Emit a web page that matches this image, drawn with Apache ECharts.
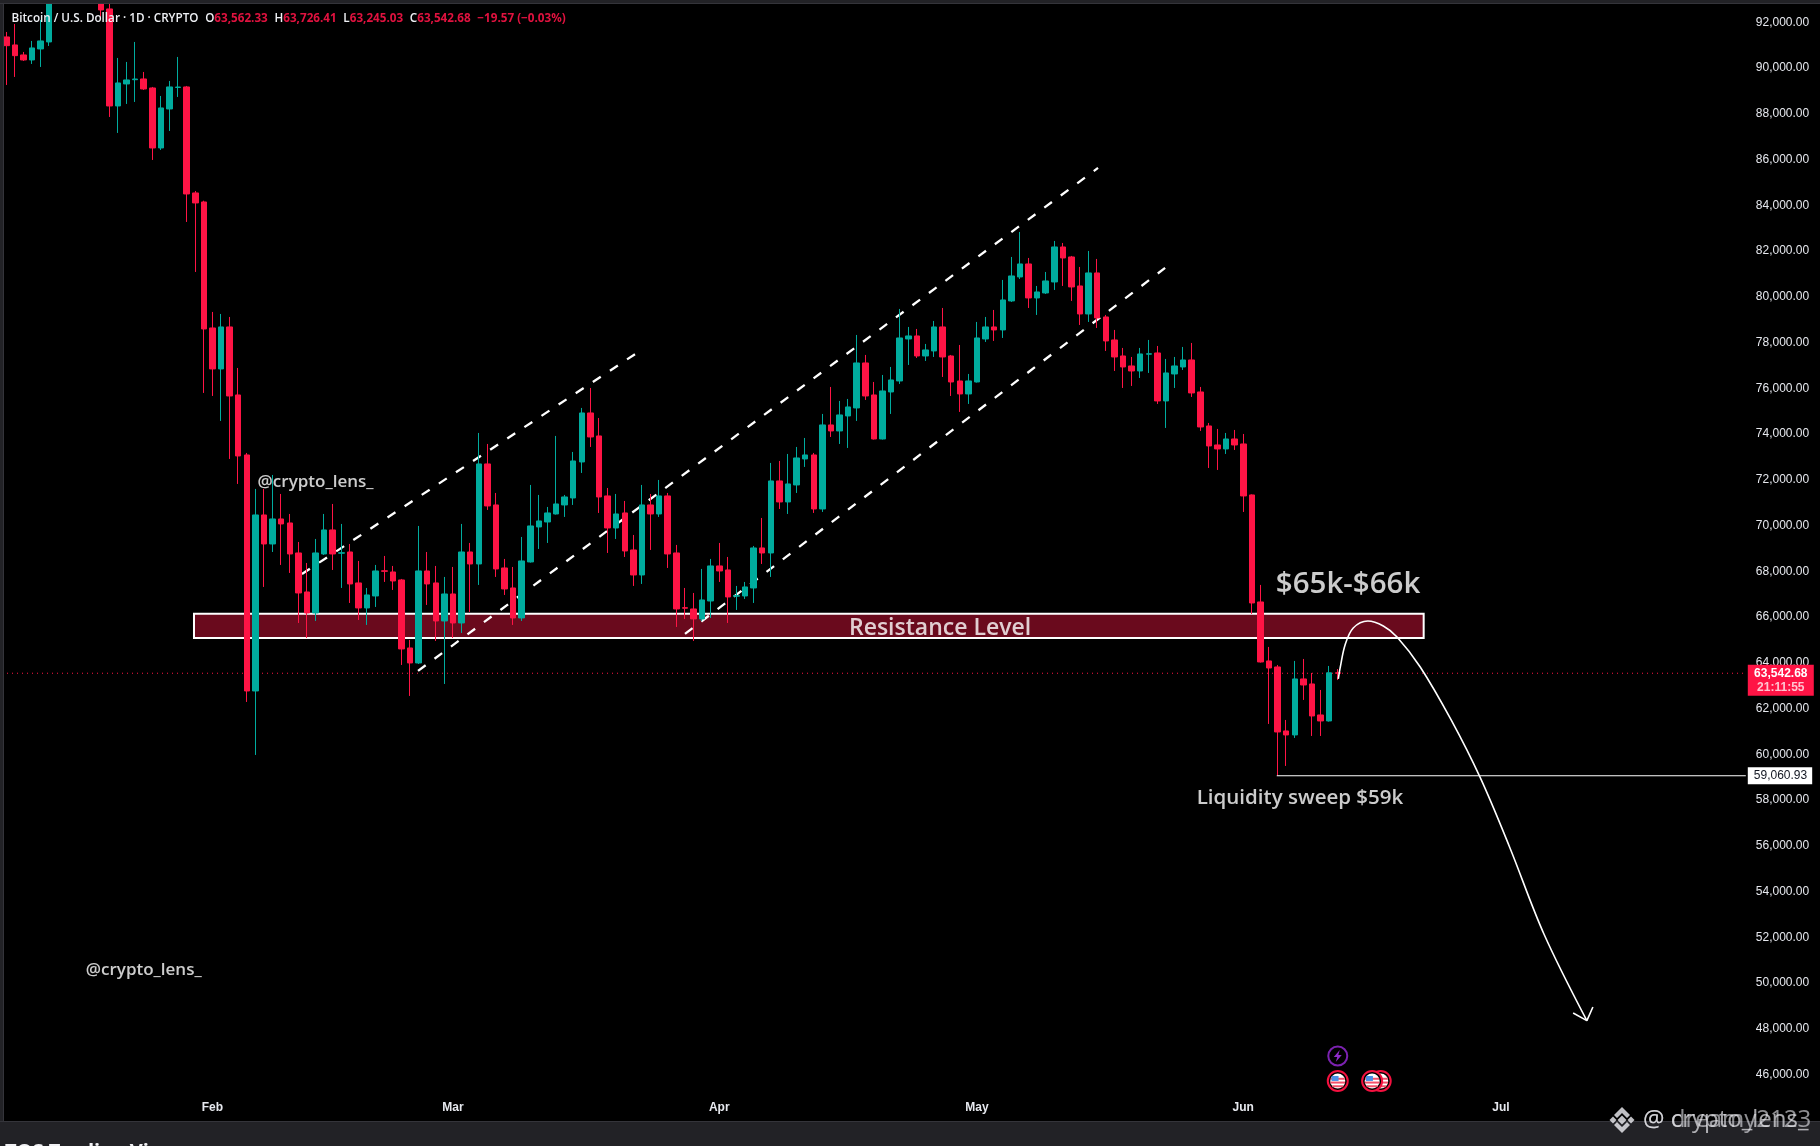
<!DOCTYPE html>
<html><head><meta charset="utf-8">
<style>html,body{margin:0;padding:0;background:#000;overflow:hidden}#c{width:1820px;height:1146px}</style>
<script src="https://cdn.jsdelivr.net/npm/echarts@6/dist/echarts.min.js"></script>
</head><body><div id="c"></div>
<script>
const opens=[91359,91009,90572,90353,90834,91140,94500,96900,95600,95500,95100,93600,92583,88342,89304,89490,89522,89129,86506,88211,89150,89173,84539,84145,78637,76845,78681,75708,73085,62768,70462,69194,70287,70112,68801,67096,66178,68757,69807,68790,68844,67490,66397,66921,68020,67970,67621,64648,63992,68014,67490,65828,67008,65741,68844,68320,72692,70900,68145,67271,65960,68408,69938,70156,70506,70900,71205,72779,74921,73916,71293,69894,70550,68932,67839,70900,70506,71293,68801,66410,66353,65916,66702,68233,68058,66910,66921,67271,69020,68801,71949,71031,71774,72910,73085,70724,74397,74135,74790,75140,77107,75708,73784,75839,76320,78156,78288,77413,77632,78681,77413,76320,75752,76276,78156,78681,78550,79818,80867,81435,79949,80167,80648,82178,81741,80473,79249,81042,79118,78112,77413,76976,76757,77490,77544,75446,76626,76932,77238,75839,74353,73522,73348,73784,73566,71337,66659,64080,63817,61020,60845,63293,63074,61719,61457,63562.33];
const closes=[90978,90541,90353,90878,91184,94500,96900,95600,95500,95100,93800,92539,88342,89348,89479,89520,89085,86506,88255,89173,89170,84495,84102,78593,76845,78681,75664,73041,62768,70462,69194,70287,70069,68757,67052,66178,68801,69807,68757,68810,67446,66397,66965,68014,68000,67577,64605,63992,68014,67446,65828,67008,65741,68844,68320,72692,70856,68102,67227,65960,68451,69981,70200,70550,70943,71249,72823,74921,73872,71249,69894,70506,68888,67839,70900,70506,71293,68757,66353,66385,65916,66746,68233,68014,66877,66935,67315,69020,68801,71949,71031,71818,72954,73085,70724,74397,74135,74834,75184,77107,75664,73784,75883,76364,78200,78288,77413,77675,78681,77369,76276,75752,76320,78200,78681,78550,79861,80910,81435,79949,80211,80692,82178,81697,80430,79249,81042,79074,78069,77369,76932,76757,77500,77510,75446,76670,76976,77238,75796,74309,73479,73348,73784,73522,71293,66615,64036,63773,60976,60845,63293,63030,61675,61457,63562,63542.68];
const highs=[91577,91927,90703,91184,92102,95000,97800,97400,95900,95700,95300,94000,92845,90440,90266,91140,89828,89173,88779,89435,90484,89216,84626,84200,79337,79249,79118,76888,73173,71599,71599,72211,71380,70506,69282,68364,69413,70506,70943,70069,69194,68451,67271,68277,68670,68233,67665,64998,69981,68844,68233,67752,68189,70069,69238,74047,73566,71424,68539,68189,69500,71774,71337,70812,73916,71337,73216,75140,76014,74702,71642,71380,71074,69588,71774,71380,71992,71424,69151,67271,67052,68102,68539,69238,68626,67359,67534,69107,70331,72736,72823,73129,73435,73828,73173,74878,76058,75446,75533,78331,77457,76276,76582,76932,79468,78681,78593,77938,78943,79511,77457,77894,76626,78900,79118,79424,80736,81741,82834,81697,80473,81085,82440,82353,81785,81304,82003,81654,79206,78550,77763,77369,77763,78113,77850,77282,77369,77806,77981,76058,74484,74222,74047,74178,74003,71360,67403,64692,63905,61500,64080,64167,63555,62812,63861,63726.41];
const lows=[89260,89610,90309,90178,90047,90965,94200,95000,95000,94900,93300,92189,87861,87162,88430,88517,89042,85981,86419,87249,88736,83271,81085,75796,75664,74572,72910,71818,62287,59970,67315,68844,68277,67927,65741,65085,65828,68713,68058,67271,66615,65872,65654,66440,67534,67184,63905,62550,63948,66528,64954,63074,65085,65304,66222,67403,70681,67752,66965,65654,65828,68380,68976,69238,70480,70375,70900,72298,73435,70550,68801,69413,68626,67359,67446,68932,70375,68145,65566,65916,64954,65828,65960,67534,65741,66309,66790,66615,68320,67752,70724,70506,71424,72561,70550,70593,73872,73566,73391,74572,75490,73760,73760,74878,76189,77020,77325,77194,77369,76495,75664,74966,75315,76250,78025,78069,78200,79774,80779,79511,79206,80124,80298,80473,79818,78768,78900,78637,77632,76757,76014,76102,76451,76670,75315,74266,76014,76801,75621,74135,72517,72429,73129,73304,70593,66135,64010,61326,59061,59490,60714,62375,60801,60801,61430,63245.03];

const startDate='2026-01-08';
const totalDays=203;
const monthTicks={'2026-02-01':'Feb','2026-03-01':'Mar','2026-04-01':'Apr','2026-05-01':'May','2026-06-01':'Jun','2026-07-01':'Jul'};
const days=[];
for(let i=0;i<totalDays;i++){const d=new Date(Date.parse(startDate+'T00:00:00Z')+i*864e5);days.push(d.toISOString().slice(0,10));}

const resistanceBox=[[21.85,66147],[165,65085]];
const sweepLevel=59060.93;
const sweepStart=147.9;
const lastPrice=63542.68;
const countdown='21:11:55';
const channelLines=[
  [[34.42,67883],[73.4,77544]],
  [[47.93,63643],[127.09,85632]],
  [[79.01,65260],[134.9,81260]]
];
const projection=[[155.06,63293],[155.3,63817],[155.85,64779],[156.8,65522],[158.5,65828],[160.3,65610],[161.9,65129],[164.6,63817],[168.2,61500],[171.6,58965],[175,55948],[179,52145],[184,48355]];
const arrowHead=[[182.4,48692],[184,48355],[184.7,48954]];
const notes=[
  ['@crypto_lens_',36.0,71905,17],
  ['@crypto_lens_',16.0,50570,17],
  ['$65k-$66k',156.2,67400,29.5],
  ['Resistance Level',108.7,65520,23],
  ['Liquidity sweep $59k',150.6,58090,20.5]
];
const events=[[155,46812,'bolt'],[160,45719,'flag'],[155,45719,'flag'],[159,45719,'flag']];
const header={name:'Bitcoin / U.S. Dollar · 1D · CRYPTO',o:'63,562.33',h:'63,726.41',l:'63,245.03',c:'63,542.68',chg:'−19.57 (−0.03%)'};

const UP='#00ac9e',DOWN='#ff1445',FONT='"Open Sans","Noto Sans",sans-serif';
const candles=opens.map((o,i)=>[o,closes[i],lows[i],highs[i]]);
const fmt=v=>v.toLocaleString('en-US',{minimumFractionDigits:2,maximumFractionDigits:2});
const lineBase={type:'line',xAxisIndex:1,yAxisIndex:0,symbol:'none',silent:true,animation:false};

function bolt(){return {type:'group',children:[
  {type:'circle',shape:{r:9.5},style:{fill:'#000',stroke:'#7b22b0',lineWidth:2}},
  {type:'polygon',shape:{points:[[2,-6],[-4,1],[-0.5,1],[-2,6],[4,-1],[0.5,-1]]},style:{fill:'#8e2cc9'}}]};}
function flag(){return {type:'group',children:[
  {type:'circle',shape:{r:10},style:{fill:'#000',stroke:'#f4103f',lineWidth:2}},
  {type:'circle',shape:{r:7.5},style:{fill:'#fff'}},
  {type:'rect',shape:{x:-7,y:-3.2,width:14,height:2},style:{fill:'#f4506a'}},
  {type:'rect',shape:{x:-7.3,y:0.6,width:14.6,height:2},style:{fill:'#f4506a'}},
  {type:'rect',shape:{x:-5.5,y:4.3,width:11,height:2},style:{fill:'#f4506a'}},
  {type:'rect',shape:{x:-6.2,y:-5,width:7,height:5},style:{fill:'#4a8fe6'}}]};}

const chart=echarts.init(document.getElementById('c'),null,{renderer:'canvas'});
const series=[
  {...lineBase,name:'zone',data:resistanceBox,z:1,lineStyle:{opacity:0},
   markArea:{silent:true,itemStyle:{color:'#6a0a1d',borderColor:'#fff',borderWidth:2},
     data:[[{coord:resistanceBox[0]},{coord:resistanceBox[1]}]]}},
  {...lineBase,name:'last',z:3,data:[[-0.5,lastPrice],[202.5,lastPrice]],clip:false,
   lineStyle:{color:DOWN,width:1,type:[1,4]},
   endLabel:{show:true,distance:2,offset:[0,7],formatter:'{a|'+fmt(lastPrice)+'}\n{b|'+countdown+'}',backgroundColor:'#ff1445',padding:[2,3,2,3],
     rich:{a:{color:'#fff',fontFamily:'Liberation Sans',fontSize:12,fontWeight:'bold',lineHeight:14,width:60,align:'center'},
           b:{color:'#ffc4d0',fontFamily:'Liberation Sans',fontSize:12,fontWeight:'bold',lineHeight:13,width:60,align:'center'}}}},
  ...channelLines.map(l=>({...lineBase,z:3,data:l,lineStyle:{color:'#fff',width:2.3,type:[9.5,11]}})),
  {type:'candlestick',xAxisIndex:0,yAxisIndex:0,data:candles,barWidth:6,z:5,clip:true,silent:true,animation:false,
   itemStyle:{color:UP,color0:DOWN,borderColor:UP,borderColor0:DOWN,borderWidth:1}},
  {...lineBase,name:'sweep',z:6,clip:false,data:[[sweepStart,sweepLevel],[202.5,sweepLevel]],lineStyle:{color:'#fff',width:1},
   endLabel:{show:true,distance:2,formatter:fmt(sweepLevel),color:'#131722',backgroundColor:'#fff',padding:[3,5,2,6],fontFamily:'Liberation Sans',fontSize:12}},
  {...lineBase,name:'projection',z:7,smooth:0.35,data:projection,lineStyle:{color:'#fff',width:1.6}},
  {...lineBase,name:'head',z:7,data:arrowHead,lineStyle:{color:'#fff',width:1.6}},
  {type:'scatter',xAxisIndex:1,yAxisIndex:0,symbolSize:0,z:8,silent:true,animation:false,
   data:notes.map(n=>({value:[n[1],n[2]],label:{show:true,position:'inside',formatter:n[0],fontSize:n[3],fontWeight:600,color:'#fff',fontFamily:FONT}}))},
  {type:'custom',xAxisIndex:1,yAxisIndex:0,z:8,silent:true,animation:false,clip:false,
   data:events.map(e=>[e[0],e[1]]),encode:{x:0,y:1},
   renderItem:(p,api)=>{const pt=api.coord([api.value(0),api.value(1)]);
     const g=events[p.dataIndex][2]==='bolt'?bolt():flag();g.x=pt[0];g.y=pt[1];return g;}}
];

const logoFill='rgba(240,240,245,.8)';
function diamond(cx,cy,r){return {type:'polygon',z:120,shape:{points:[[cx,cy-r],[cx+r,cy],[cx,cy+r],[cx-r,cy]]},style:{fill:logoFill}};}
function chevron(cx,cy,dir){const s=dir;return {type:'polygon',z:120,shape:{points:[[cx,cy],[cx+8,cy+8*s],[cx+5,cy+11*s],[cx,cy+6*s],[cx-5,cy+11*s],[cx-8,cy+8*s]]},style:{fill:logoFill}};}
const band='#222226',edge='#34343a';
chart.setOption({
  animation:false,backgroundColor:'#000',
  title:{left:11.5,top:13,padding:0,z:50,textStyle:{fontSize:12,fontFamily:'"Liberation Sans",sans-serif',
     rich:{w:{color:'#eef0f4',fontSize:11.7,fontFamily:FONT,fontWeight:600},r:{color:'#e0123f',fontSize:11.7,fontFamily:FONT}}},
     text:`{w|${header.name}}  {w|O}{r|${header.o}}  {w|H}{r|${header.h}}  {w|L}{r|${header.l}}  {w|C}{r|${header.c}}  {r|${header.chg}}`},
  grid:{left:2,top:3.98,width:1743.8,height:1116.3,containLabel:false},
  xAxis:[
    {type:'category',data:days,boundaryGap:true,axisLine:{show:false},axisTick:{show:false},splitLine:{show:false},
     axisLabel:{inside:true,margin:7,color:'#e6e8ee',fontSize:12,fontWeight:'bold',fontFamily:'"Liberation Sans",sans-serif',
       interval:(i,v)=>v in monthTicks,formatter:v=>monthTicks[v]||''}},
    {type:'value',min:-0.5,max:202.5,show:false,splitLine:{show:false}}
  ],
  yAxis:{type:'value',position:'right',min:44000,max:92800,interval:2000,scale:true,
     axisLine:{show:false},axisTick:{show:false},splitLine:{show:false},
     axisLabel:{margin:10,color:'#e6e8ee',fontSize:12,fontFamily:'"Liberation Sans",sans-serif',showMinLabel:false,showMaxLabel:false,formatter:v=>fmt(v)}},
  graphic:[
    {type:'rect',z:100,shape:{x:0,y:1122,width:1820,height:24},style:{fill:band}},
    {type:'rect',z:101,shape:{x:0,y:1121,width:1820,height:1},style:{fill:edge}},
    {type:'rect',z:100,shape:{x:0,y:0,width:1820,height:3},style:{fill:band}},
    {type:'rect',z:101,shape:{x:0,y:3,width:1820,height:1},style:{fill:edge}},
    {type:'rect',z:100,shape:{x:0,y:0,width:3,height:1122},style:{fill:band}},
    {type:'rect',z:101,shape:{x:3,y:3,width:1,height:1119},style:{fill:edge}},
    {type:'text',z:110,x:5,y:1142,style:{text:'TOS Trading View',fill:'#f2f2f5',font:'bold 20px "Open Sans",sans-serif'}},
    chevron(1622,1107,1),chevron(1622,1133,-1),diamond(1622,1120,4.5),diamond(1613,1120,3.5),diamond(1631,1120,3.5),
    {type:'text',z:121,x:1643,y:1108,style:{text:'@ crypto_lens_',fill:'rgba(235,235,240,.7)',font:'24px "Open Sans",sans-serif'}},
    {type:'text',z:121,x:1643,y:1108,style:{text:'@ dreamy2123',fill:'rgba(235,235,240,.6)',font:'24px "Open Sans",sans-serif'}}
  ],
  series
});
</script></body></html>
